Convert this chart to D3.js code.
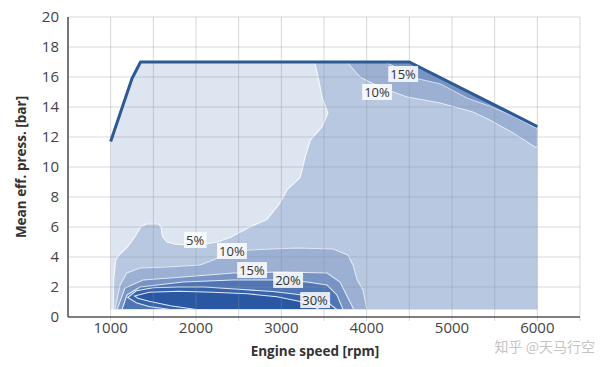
<!DOCTYPE html>
<html><head><meta charset="utf-8">
<script src="https://cdn.jsdelivr.net/npm/d3@7"></script>
<style>body{margin:0;background:#fff}svg{display:block}</style>
</head><body>
<svg id="c" width="600" height="367"></svg>
<script>
// ---- data ----
const xTicks = [1000, 2000, 3000, 4000, 5000, 6000];
const yTicks = [0, 2, 4, 6, 8, 10, 12, 14, 16, 18, 20];
const xGrid = [1000,1500,2000,2500,3000,3500,4000,4500,5000,5500,6000,6500];
const yGrid = [2,4,6,8,10,12,14,16,18,20];
const mapBottom = 0.5;
const fullLoad = [[1000,11.7],[1250,15.9],[1350,17.0],[4500,17.0],[6000,12.7]];
// 5% contour (top to bottom)
const contour5 = [[3390,17],[3430,16],[3480,14.6],[3545,13.6],[3480,12.7],[3340,11.8],[3280,10.7],[3220,9.3],[3070,8.5],[2985,7.6],[2830,6.5],[2630,6.0],[2400,5.3],[2250,5.0],[2050,4.8],[1900,4.8],[1760,4.85],[1660,5.0],[1605,5.4],[1590,6.0],[1560,6.2],[1420,6.2],[1350,6.0],[1290,5.4],[1200,4.7],[1110,4.2],[1060,3.8],[1035,2.5],[1030,0.5]];
// low-load islands
const contour10Low = [[1050,0.5],[1110,2.13],[1190,2.93],[1344,3.27],[1660,3.33],[2047,3.47],[2200,3.8],[2420,4.33],[2633,4.47],[3184,4.6],[3606,4.53],[3780,4.13],[3840,3.47],[3890,2.47],[3957,1.8],[4004,0.5]];
const contour15Low = [[1074,0.5],[1168,1.93],[1379,2.47],[1848,2.67],[2434,2.93],[3020,3.0],[3535,2.93],[3688,2.33],[3781,1.27],[3850,0.5]];
const contour20 = [[1133,0.5],[1191,1.47],[1344,2.0],[1848,2.33],[2434,2.47],[2902,2.47],[3301,2.33],[3535,2.13],[3652,1.47],[3723,0.5]];
const contour25 = [[1200,1.3],[1300,1.75],[1500,1.95],[1800,2.0],[2100,2.0],[2500,1.85],[2900,1.7],[3200,1.5],[3420,1.27],[3560,0.9],[3650,0.5],[1700,0.5],[1450,0.7],[1300,0.95]];
const contour30 = [[1280,1.4],[1450,1.65],[1800,1.72],[2200,1.65],[2600,1.55],[2950,1.35],[3250,1.0],[3450,0.5],[2000,0.5],[1700,0.75],[1450,1.05],[1320,1.25]];
// high-load band (lines from right end back to the top)
const contour10High = [[6000,11.33],[5973,11.33],[5715,12.27],[5445,13.13],[5246,13.67],[4859,14.27],[4473,14.67],[4156,15.33],[3922,16.0],[3770,17.0]];
const contour15High = [[6000,12.55],[5715,13.4],[5446,14.05],[5176,14.6],[4860,15.55],[4508,16.0],[4400,16.5],[4215,17.0]];
const labels = [
  {t:"5%", rpm:1990, bar:5.13},
  {t:"10%", rpm:2420, bar:4.4},
  {t:"15%", rpm:2656, bar:3.13},
  {t:"20%", rpm:3078, bar:2.47},
  {t:"30%", rpm:3395, bar:1.13},
  {t:"15%", rpm:4426, bar:16.2},
  {t:"10%", rpm:4121, bar:15.0}
];
const colors = ["#dde5f1","#b8c8e0","#9bb0d3","#7794c5","#5075b5","#3763ab","#2a57a2"];

// ---- drawing ----
const svg = d3.select("#c");
const x = d3.scaleLinear().domain([500,6500]).range([68,580]);
const y = d3.scaleLinear().domain([0,20]).range([317,17]);
const line = d3.line().x(d=>x(d[0])).y(d=>y(d[1]));
const closed = d3.line().x(d=>x(d[0])).y(d=>y(d[1])).curve(d3.curveLinearClosed);

function curveBetween(a,b){
  const pts=[];
  const interp = r => { for(let i=0;i<fullLoad.length-1;i++){const p=fullLoad[i],q=fullLoad[i+1]; if(r>=p[0]&&r<=q[0]) return p[1]+(q[1]-p[1])*(r-p[0])/(q[0]-p[0]);} return fullLoad[fullLoad.length-1][1]; };
  pts.push([a,interp(a)]);
  fullLoad.forEach(p=>{ if(p[0]>a && p[0]<b) pts.push(p); });
  pts.push([b,interp(b)]);
  return pts;
}

const g = svg.append("g");
const base = [[1000,mapBottom], ...fullLoad, [6000,mapBottom]];
g.append("path").attr("d",closed(base)).attr("fill",colors[1]);
const light = [[1000,mapBottom], ...curveBetween(1000,contour5[0][0]), ...contour5.slice(1)];
g.append("path").attr("d",closed(light)).attr("fill",colors[0]).attr("stroke","#f4f7fb").attr("stroke-width",1.2);
const hi10 = [...curveBetween(contour10High[contour10High.length-1][0],6000), ...contour10High];
g.append("path").attr("d",closed(hi10)).attr("fill",colors[2]).attr("stroke","#e8eef7").attr("stroke-width",1);
const hi15 = [...curveBetween(contour15High[contour15High.length-1][0],6000), ...contour15High];
g.append("path").attr("d",closed(hi15)).attr("fill",colors[3]).attr("stroke","#e8eef7").attr("stroke-width",0.8);
[[contour10Low,2],[contour15Low,3],[contour20,4],[contour25,5],[contour30,6]].forEach(([c,i])=>{
  g.append("path").attr("d",closed(c)).attr("fill",colors[i]).attr("stroke","#dfe8f5").attr("stroke-width",1.1);
});

// grid
const grid = svg.append("g").attr("stroke","#8a8f99").attr("stroke-opacity",0.35).attr("stroke-width",1);
xGrid.forEach(v=>grid.append("line").attr("x1",x(v)).attr("x2",x(v)).attr("y1",y(20)).attr("y2",y(0)+4));
yGrid.forEach(v=>grid.append("line").attr("x1",x(500)).attr("x2",x(6500)).attr("y1",y(v)).attr("y2",y(v)));

// full load line
svg.append("path").attr("d",line(fullLoad)).attr("fill","none").attr("stroke","#2c5a96").attr("stroke-width",3).attr("stroke-linejoin","round");

// labels
const lg = svg.append("g").style("font-family","'Open Sans', sans-serif").style("font-size","13px");
labels.forEach(l=>{
  const t = lg.append("text").attr("x",x(l.rpm)).attr("y",y(l.bar)).attr("text-anchor","middle").attr("dominant-baseline","central").attr("fill","#333").text(l.t);
  const bb = t.node().getBBox();
  lg.insert("rect","text").attr("x",bb.x-2).attr("y",bb.y+1).attr("width",bb.width+4).attr("height",bb.height-2).attr("fill","#fff").attr("fill-opacity",0.85);
});
lg.selectAll("text").raise();

// axes
const ax = svg.append("g").attr("stroke","#555").attr("stroke-width",1.6);
ax.append("line").attr("x1",x(500)).attr("x2",x(500)).attr("y1",y(20)).attr("y2",y(0));
ax.append("line").attr("x1",x(500)).attr("x2",x(6500)).attr("y1",y(0)).attr("y2",y(0));

const tf = svg.append("g").style("font-family","'Open Sans', sans-serif").style("font-size","15px").attr("fill","#444");
xTicks.forEach(v=>tf.append("text").attr("x",x(v)).attr("y",333).attr("text-anchor","middle").text(v));
yTicks.forEach(v=>tf.append("text").attr("x",59).attr("y",y(v)+5).attr("text-anchor","end").text(v));

svg.append("text").attr("x",315).attr("y",356).attr("text-anchor","middle")
  .style("font-family","'Open Sans', sans-serif").style("font-size","13.5px").style("font-weight","bold").attr("fill","#333")
  .text("Engine speed [rpm]");
svg.append("text").attr("transform","translate(26,167) rotate(-90)").attr("text-anchor","middle")
  .style("font-family","'Open Sans', sans-serif").style("font-size","13.5px").style("font-weight","bold").attr("fill","#333")
  .text("Mean eff. press. [bar]");
svg.append("text").attr("x",595).attr("y",352).attr("text-anchor","end")
  .style("font-family","'Noto Sans CJK SC', sans-serif").style("font-size","14px").attr("fill","#c4c4c4")
  .text("知乎 @天马行空");
</script>
</body></html>
